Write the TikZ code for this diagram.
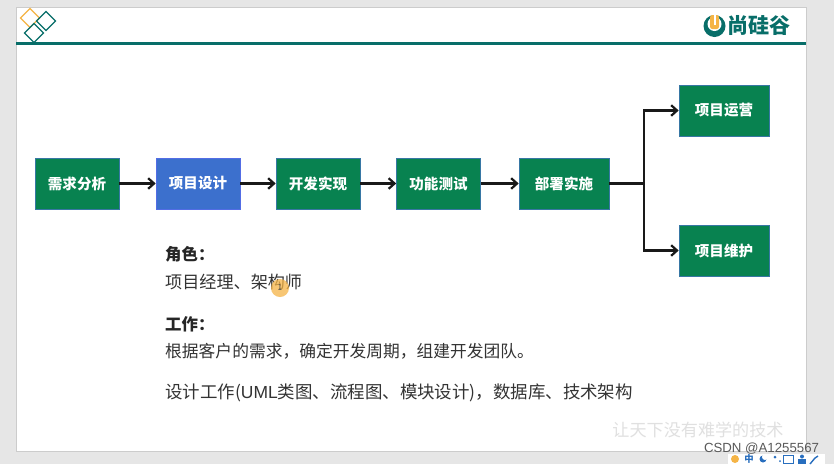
\documentclass[tikz,border=0pt]{standalone}
\usepackage{fontspec}
\setmainfont{Noto Sans CJK SC}
\newfontfamily\latinfont{Liberation Sans}
\usetikzlibrary{positioning,arrows.meta}
\definecolor{slidebg}{RGB}{230,230,230}
\definecolor{stepgreen}{RGB}{8,130,80}
\definecolor{stepblue}{RGB}{60,112,205}
\definecolor{teal}{RGB}{8,110,105}
\definecolor{goldline}{RGB}{245,180,70}
\definecolor{iconblue}{RGB}{40,110,190}

\begin{document}
\begin{tikzpicture}[x=0.03cm,y=-0.03cm,
  stepbox/.style={rectangle, draw=#1!65!blue!80!white, line width=0.5pt, fill=#1, text=white,
               font=\fontsize{12.4}{14}\selectfont\bfseries,
               minimum width=2.52cm, minimum height=1.53cm, inner sep=0pt, align=center},
  wide/.style={minimum width=2.7cm},
  ar/.style={-{Straight Barb[length=5pt,width=9pt]}, line width=1.9pt, black!90},
  body/.style={font=\fontsize{14.6}{16}\selectfont, text=black!80, anchor=west, inner sep=0pt},
  head/.style={font=\fontsize{14}{16}\selectfont\bfseries, text=black!85, anchor=west, inner sep=0pt},
  diam/.style={draw=#1, line width=1.1pt, fill=none, rotate=45, minimum size=0.4cm, inner sep=0pt},
]

\useasboundingbox (0,0) rectangle (834,464);
\fill[slidebg] (0,0) rectangle (834,464);
\filldraw[fill=white, draw=black!20] (16,7) rectangle (806,451);
\fill[teal] (16,42) rectangle (806,45);

% corner mark
\node[diam=goldline] (d1) at (30,18) {};
\node[diam=teal]     (d2) at (46,21) {};
\node[diam=teal]     (d3) at (34,33) {};

% logo
\fill[teal] (714.5,26) circle (11);
\fill[white] (714.5,24) circle (7);
\fill[goldline, rounded corners=2pt] (710,15) rectangle (719,29);
\fill[white] (713.5,15) rectangle (715.5,25);
\node[font=\fontsize{18}{19}\selectfont\bfseries, text=teal, inner sep=0pt] (logo) at (759,25) {尚硅谷};

% steps
\node[stepbox=stepgreen] (req)  at (77,183.5)  {需求分析};
\node[stepbox=stepblue]  (des)  at (198,183.5) {项目设计};
\node[stepbox=stepgreen] (dev)  at (318,183.5) {开发实现};
\node[stepbox=stepgreen] (tst)  at (438.5,183.5) {功能测试};
\node[stepbox=stepgreen, wide] (dep)  at (564,183.5) {部署实施};
\node[stepbox=stepgreen, wide] (ops)  at (724,110.5) {项目运营};
\node[stepbox=stepgreen, wide] (mnt)  at (724,250.5) {项目维护};
\coordinate (fork) at (644,183.5);

\foreach \a/\b in {req/des,des/dev,dev/tst,tst/dep}
  \draw[ar] (\a.east) -- (\b.west);
\draw[line width=1.9pt, black!90] (dep.east) -- (fork);
\draw[ar] (fork) |- (ops.west);
\draw[ar] (fork) |- (mnt.west);

% notes
\node[head] (role)  at (165,254) {角色：};
\node[body] (rolet) at (165,282) {项目经理、架构师};
\node[head] (work)  at (165,324) {工作：};
\node[body, font=\fontsize{14.3}{16}\selectfont] (workt) at (165,351) {根据客户的需求，确定开发周期，组建开发团队。};
\node[body, font=\fontsize{14.9}{16}\selectfont] (plan)  at (165,393) {设计工作({\latinfont UML}类图、流程图、模块设计)，数据库、技术架构};

% cursor
\fill[goldline, opacity=0.75] (280,288) circle (9);
\node[font=\fontsize{7}{8}\selectfont, text=black!70, inner sep=0pt] (cursor) at (280,288) {1};

% watermarks
\node[font=\fontsize{14.6}{15}\selectfont, text=black!12, inner sep=0pt] (slogan) at (698,430) {让天下没有难学的技术};
\node[font=\latinfont\fontsize{11.3}{12}\selectfont, text=black!65, inner sep=0pt] (csdn) at (761.5,449) {CSDN @A1255567};

% taskbar
\fill[white] (728,454) rectangle (825,464);
\fill[goldline] (735,459) circle (4);
\node[font=\fontsize{8}{9}\selectfont\bfseries, text=iconblue, inner sep=0pt] (ime) at (749,459) {中};
\fill[iconblue] (763,459) circle (3.5);
\fill[white] (765,457) circle (3);
\fill[iconblue] (775,457) circle (1.5);
\fill[iconblue] (780,461) circle (1);
\draw[iconblue, line width=0.5pt] (783,455) rectangle (793,463);
\fill[iconblue] (802,456.5) circle (2);
\fill[iconblue] (798,464) rectangle (806,459);
\draw[iconblue, line width=1.2pt] (810,464) -- (815,458) -- (818,456);

\end{tikzpicture}
\end{document}
